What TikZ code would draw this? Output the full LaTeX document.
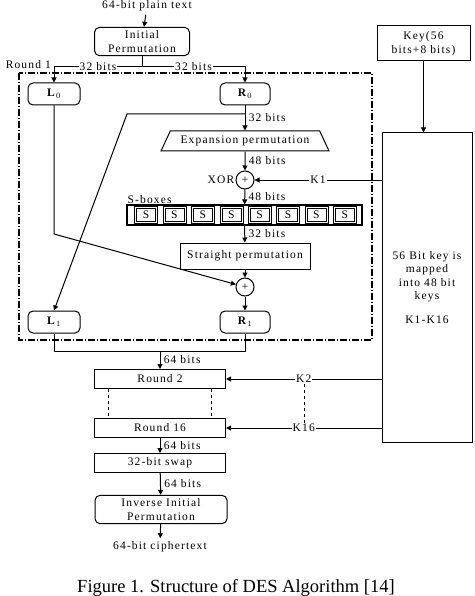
\documentclass[tikz,border=0pt]{standalone}
\usepackage{fontspec}
\setmainfont{Liberation Serif}[LetterSpace=10]
\newfontfamily\capfont{Liberation Serif}
\usetikzlibrary{shapes.geometric, arrows.meta, positioning}

\tikzset{
    every node/.style={font=\fontsize{11.5}{13.5}\selectfont},
    rbox/.style={draw, line width=1pt, rounded corners=5pt, align=center},
    pbox/.style={draw, line width=1pt, align=center},
    lbl/.style={fill=white, inner sep=1pt},
    arr/.style={line width=1pt, -{Triangle[length=5pt, width=5pt]}},
    link/.style={line width=1pt},
    scell/.style={draw, thin, minimum width=23pt, minimum height=17pt, inner sep=0pt},
}

\begin{document}
\begin{tikzpicture}[x=1pt, y=-1pt]
    \useasboundingbox (0,0) rectangle (474,596);

    % Input and initial permutation
    \node (plain) at (147,6) {64-bit plain text};
    \node[rbox, minimum width=95pt, minimum height=27pt] (ip) at (142,41.5) {Initial\\Permutation};
    \draw[arr] (plain) -- (ip);

    % Round 1 frame
    \draw[line width=1.2pt, dash pattern=on 7pt off 2pt on 1pt off 2pt] (19,73) rectangle (372,340);
    \node[left, inner sep=1pt] (round1) at (52,65) {Round 1};

    % Halves
    \node[rbox, minimum width=52pt, minimum height=22pt] (L0) at (54,94) {\textbf{L}$_0$};
    \node[rbox, minimum width=50pt, minimum height=22pt] (R0) at (245,94) {\textbf{R}$_0$};
    \node[rbox, minimum width=52pt, minimum height=22pt] (L1) at (54,322) {\textbf{L}$_1$};
    \node[rbox, minimum width=50pt, minimum height=22pt] (R1) at (245,322) {\textbf{R}$_1$};

    \coordinate (split) at (142,67);
    \draw[link] (ip) -- (split);
    \draw[arr] (split) -| (L0) node[pos=0.25, lbl] {32 bits};
    \draw[arr] (split) -| (R0) node[pos=0.25, lbl] {32 bits};

    % Round function
    \node[draw, line width=1pt, trapezium, trapezium angle=61, trapezium stretches body,
        minimum width=168pt, minimum height=20pt] (exp) at (245,141) {Expansion permutation};
    \node[draw, line width=1pt, circle, minimum size=18pt, inner sep=0pt] (xor1) at (245,180) {+};
    \node[left=1pt of xor1, inner sep=0pt] (xorlbl) {XOR};
    \node[draw, very thick, minimum width=235pt, minimum height=20pt] (sboxes) at (244.5,215) {};
    \foreach \i in {1,...,8}{
        \node[scell] (so\i) at ({146+(\i-1)*28.4},215) {};
        \node[scell, minimum width=19pt, minimum height=13pt] (s\i) at (so\i) {S};
    }
    \node[above right, inner sep=1pt] (sboxlbl) at (sboxes.north west) {S-boxes};
    \node[pbox, minimum width=130pt, minimum height=26pt] (sp) at (245,256) {Straight permutation};
    \node[draw, line width=1pt, circle, minimum size=18pt, inner sep=0pt] (xor2) at (245,287) {+};

    \draw[arr] (R0) -- (exp) node[midway, right] {32 bits};
    \draw[arr] (exp) -- (xor1) node[midway, right] {48 bits};
    \draw[arr] (xor1) -- (sboxes) node[midway, right] {48 bits};
    \draw[arr] (sboxes) -- (sp) node[midway, right] {32 bits};
    \draw[arr] (sp) -- (xor2);
    \draw[arr] (xor2) -- (R1);

    % Crossing paths
    \coordinate (lbend) at (54,234);
    \coordinate (rbend) at (127,114);
    \draw[arr] (L0) -- (lbend) -- (xor2);
    \draw[arr] (R0.south |- rbend) -- (rbend) -- (L1.north);

    % Remaining rounds
    \coordinate (merge) at (160,351);
    \draw[link] (L1.south) |- (R1.south |- merge) -- (R1.south);
    \node[pbox, minimum width=131pt, minimum height=19pt] (round2) at (160,379) {Round 2};
    \node[pbox, minimum width=131pt, minimum height=19pt] (round16) at (160,428) {Round 16};
    \draw[arr] (merge) -- (round2) node[midway, right] {64 bits};
    \draw[thin, dashed] ([xshift=14pt]round2.south west) -- ([xshift=14pt]round16.north west);
    \draw[thin, dashed] ([xshift=-15pt]round2.south east) -- ([xshift=-15pt]round16.north east);

    \node[pbox, minimum width=131pt, minimum height=19pt] (swap) at (160,463) {32-bit swap};
    \node[rbox, minimum width=132pt, minimum height=27pt] (iip) at (161,509.5) {Inverse Initial\\Permutation};
    \node (cipher) at (160,547) {64-bit ciphertext};
    \draw[arr] (round16) -- (swap) node[midway, right] {64 bits};
    \draw[arr] (swap) -- (iip) node[midway, right] {64 bits};
    \draw[arr] (iip) -- (cipher);

    % Key schedule
    \node[pbox, minimum width=93pt, minimum height=35pt] (key) at (423.5,43.5) {Key(56\\bits+8 bits)};
    \node[pbox, minimum width=90pt, minimum height=309pt] (keymap) at (427,287.5)
        {56 Bit key is\\mapped\\into 48 bit\\keys\\[10pt]K1-K16};
    \draw[arr] (key) -- (key |- keymap.north);
    \draw[arr] (keymap.west |- xor1) -- (xor1) node[pos=0.5, lbl] {K1};
    \draw[arr] (keymap.west |- round2) -- (round2) node[pos=0.5, lbl] (k2) {K2};
    \draw[arr] (keymap.west |- round16) -- (round16) node[pos=0.5, lbl] (k16) {K16};
    \draw[thin, dashed] (k2) -- (k16);

    % Caption
    \node[font=\capfont\fontsize{18.5}{21}\selectfont, anchor=base] (caption) at (236,592) {Figure 1. Structure of DES Algorithm [14]};
\end{tikzpicture}
\end{document}
